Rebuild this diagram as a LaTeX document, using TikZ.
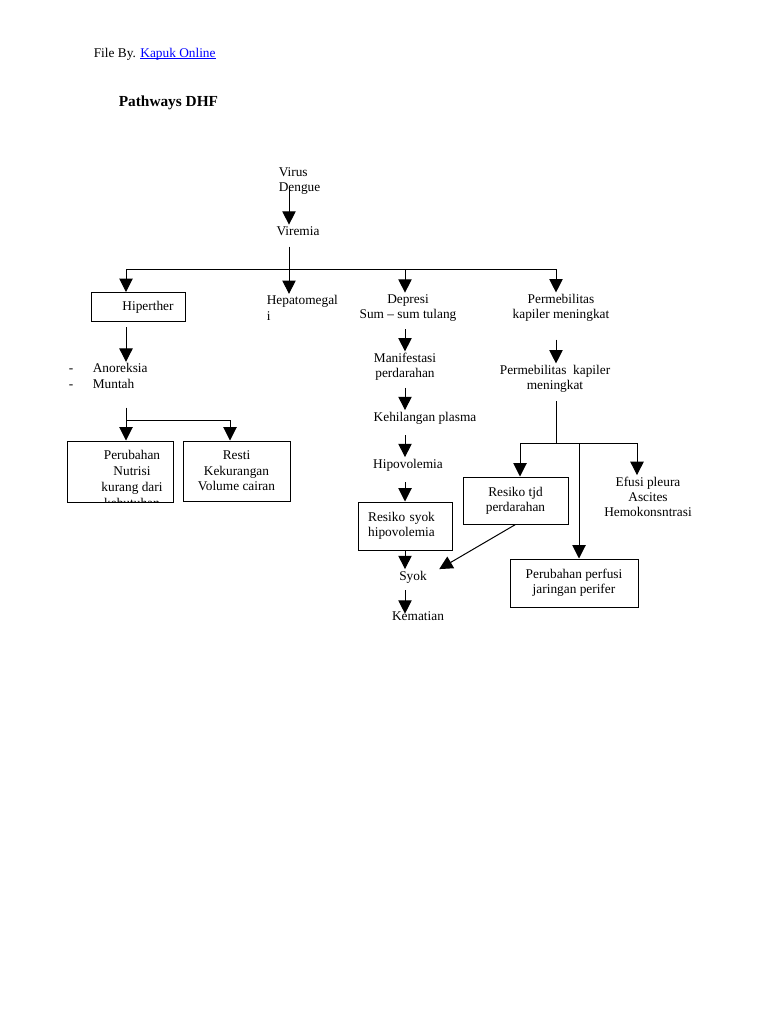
\documentclass[tikz,border=0pt]{standalone}
\usepackage{fontspec}
\setmainfont{Liberation Serif}
\usepackage{xcolor}
\newcommand\linkul[1]{\setbox0\hbox{#1}\rlap{\rule[-1.4pt]{\wd0}{0.5pt}}\box0}
\usetikzlibrary{arrows.meta}
\tikzset{ txt/.style = {inner sep=1pt, align=center, font=\fontsize{10}{11.5}\selectfont} }
\tikzset{ box/.style = {txt, rectangle, draw, line width=0.75pt} }
\tikzset{ arr/.style = {-{Triangle[length=10pt,width=10pt]}} }

\begin{document}
\begin{tikzpicture}[x=0.75pt, y=-0.75pt, line width=0.75pt]
    \useasboundingbox (0,0) rectangle (768,1024);
    % header
    \node[txt, anchor=west] (fileby) at (92,54) {File By. \textcolor{blue}{\linkul{Kapuk Online}}};
    \node[txt, anchor=west, font=\bfseries\fontsize{11.5}{13}\selectfont] (title) at (117,103) {Pathways DHF};

    % top
    \node[txt, anchor=west, align=left] (virus) at (277,181) {Virus\\Dengue};
    \node[txt] (viremia) at (298,231) {Viremia};
    \coordinate (cV0) at (289,188);
    \coordinate (cL) at (126,269);
    \coordinate (cV) at (289,269);
    \coordinate (cD) at (405,269);
    \coordinate (cR) at (556,269);

    \node[box, minimum width=70.5pt, minimum height=21.75pt] (hiper) at (138,307) {\hspace{15pt}Hiperther};
    \node[txt, anchor=west, align=left] (hepato) at (265,308) {Hepatomegal\\i};
    \node[txt] (depresi) at (408,308) {Depresi\\Sum -- sum tulang};
    \node[txt] (perm) at (561,308) {Permebilitas\\kapiler meningkat};

    \draw[arr] (cV0) -- (viremia.north -| cV0);
    \draw ([yshift=-7pt]viremia.south -| cV) -- (cV);
    \draw (cL) -- (cR);
    \draw[arr] (cL) -- (hiper.north -| cL);
    \draw[arr] (cV) -- (hepato.north -| cV);
    \draw[arr] (cD) -- (depresi.north -| cD);
    \draw[arr] (cR) -- (perm.north -| cR);

    % left column
    \node[txt, anchor=west, align=left] (anor) at (67,376) {\makebox[18pt][l]{-}Anoreksia\\\makebox[18pt][l]{-}Muntah};
    \coordinate (cA) at (126,420);
    \coordinate (cB) at (230,420);
    \begin{scope}
        \clip (67,441) rectangle (173,502);
        \node[txt, anchor=north, font=\fontsize{10}{12}\selectfont] (nutritxt) at (132,448) {Perubahan\\Nutrisi\\kurang dari\\kebutuhan};
    \end{scope}
    \node[box, minimum width=79.5pt, minimum height=45.75pt] (nutri) at (120,471.5) {};
    \node[box, minimum width=80.25pt, minimum height=45pt] (resti) at (236.5,471) {Resti\\Kekurangan\\Volume cairan};

    \draw[arr] ([yshift=-4pt]hiper.south -| cL) -- (anor.north -| cL);
    \draw ([yshift=-13pt]anor.south -| cA) -- (cA) -- (cB);
    \draw[arr] (cA) -- (nutri.north -| cA);
    \draw[arr] (cB) -- (resti.north -| cB);

    % middle column
    \node[txt] (manif) at (405,367) {Manifestasi\\perdarahan};
    \node[txt] (kehil) at (425,418) {Kehilangan plasma};
    \node[txt] (hipo) at (408,465) {Hipovolemia};
    \node[box, text width=56pt, align=left, inner sep=7.5pt, minimum height=36pt] (risk) at (405.5,526) {Resiko syok\\hipovolemia};
    \node[txt, inner xsep=9pt] (syok) at (413,577) {Syok};
    \node[txt] (mati) at (418,616) {Kematian};

    \draw[arr] ([yshift=-4.5pt]depresi.south -| cD) -- (manif.north -| cD);
    \draw[arr] ([yshift=-4pt]manif.south -| cD) -- (kehil.north -| cD);
    \draw[arr] ([yshift=-7pt]kehil.south -| cD) -- (hipo.north -| cD);
    \draw[arr] ([yshift=-7pt]hipo.south -| cD) -- (risk.north -| cD);
    \draw[arr] (risk.south -| cD) -- (syok.north -| cD);
    \draw[arr] ([yshift=-4pt]syok.south -| cD) -- ([yshift=-3pt]mati.north -| cD);

    % right column
    \node[txt] (perm2) at (555,379) {Permebilitas\enspace kapiler\\meningkat};
    \coordinate (cP) at (556,443);
    \coordinate (cP1) at (520,443);
    \coordinate (cP2) at (637,443);
    \coordinate (cP3) at (579,443);
    \node[box, minimum width=78.75pt, minimum height=35.25pt] (tjd) at (515.5,500.5) {Resiko tjd\\perdarahan};
    \node[txt] (efusi) at (648,497) {Efusi pleura\\Ascites\\Hemokonsntrasi};
    \node[box, minimum width=96pt, minimum height=36pt] (perfusi) at (574,583) {Perubahan perfusi\\jaringan perifer};

    \draw[arr] ([yshift=-12pt]perm.south -| cR) -- (perm2.north -| cR);
    \draw ([yshift=-5pt]perm2.south -| cP) -- (cP);
    \draw (cP1) -- (cP2);
    \draw[arr] (cP1) -- (tjd.north -| cP1);
    \draw[arr] (cP2) -- (efusi.north -| cP2);
    \draw[arr] (cP3) -- (perfusi.north -| cP3);
    \draw[arr] (tjd.south) -- (syok.north east);
\end{tikzpicture}
\end{document}
